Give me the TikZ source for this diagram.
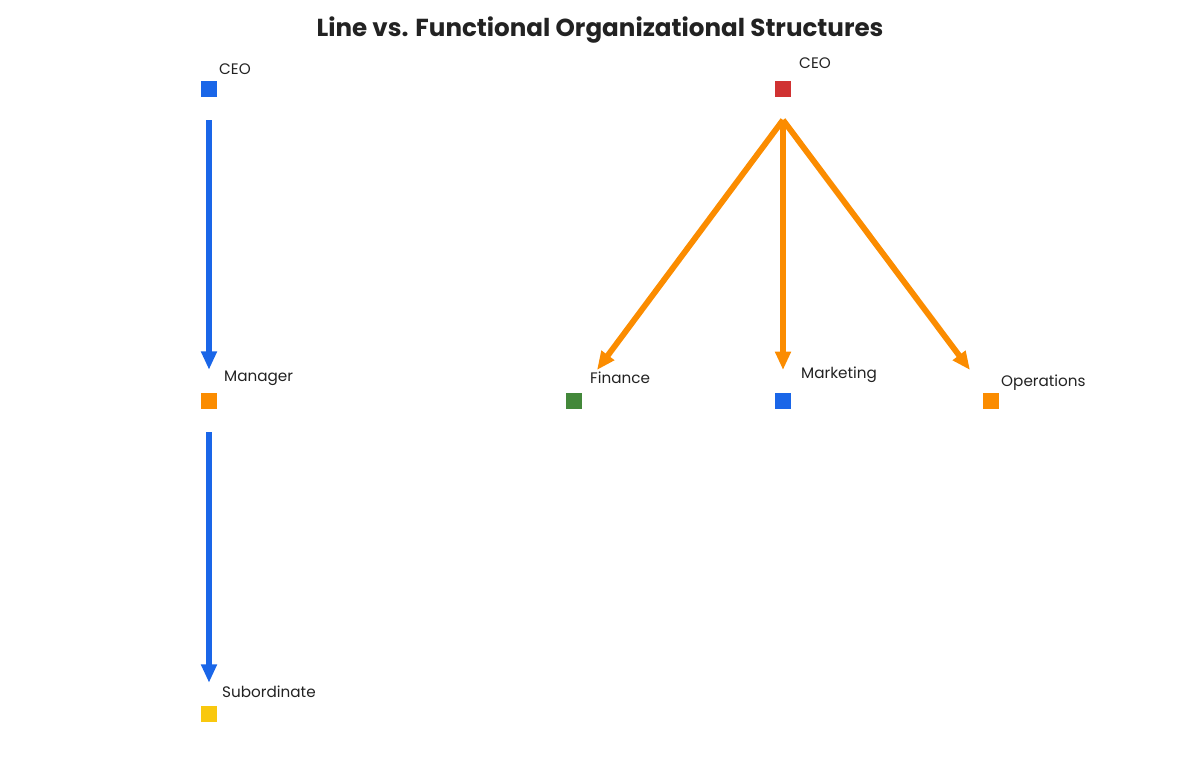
\documentclass[tikz,border=0pt]{standalone}
\usepackage{fontspec}
\setmainfont{Poppins}
\usetikzlibrary{arrows.meta}
\definecolor{cblue}{HTML}{1A66E8}
\definecolor{corange}{HTML}{FB8C00}
\definecolor{cyellow}{HTML}{F9C80E}
\definecolor{cred}{HTML}{D03232}
\definecolor{cgreen}{HTML}{43883A}
\definecolor{ctext}{HTML}{222222}
\begin{document}
\begin{tikzpicture}[x=0.03cm,y=-0.03cm,
  box/.style={minimum size=0.48cm,inner sep=0pt},
  lab/.style={anchor=west,inner sep=0pt,font=\fontsize{13}{15}\selectfont,text=ctext},
  link/.style={line width=5pt,-{Triangle[length=0.55cm,width=0.45cm]},shorten <=0.69cm,shorten >=0.69cm}]
\useasboundingbox (0,0) rectangle (1200,763);
\node[font=\fontsize{21}{25}\selectfont\bfseries,text=ctext] (title) at (600,30) {Line vs. Functional Organizational Structures};

% line structure
\node[box,fill=cblue] (ceoL) at (209,89) {};
\node[lab] (ceoLlab) at (219,69) {CEO};
\node[box,fill=corange] (man) at (209,401) {};
\node[lab] (manlab) at (224,378) {Manager};
\node[box,fill=cyellow] (sub) at (209,714) {};
\node[lab] (sublab) at (222,692) {Subordinate};
\draw[link,cblue] (ceoL) -- (man);
\draw[link,cblue] (man) -- (sub);

% functional structure
\node[box,fill=cred] (ceoF) at (783,89) {};
\node[lab] (ceoFlab) at (799,63) {CEO};
\node[box,fill=cgreen] (fin) at (574,401) {};
\node[lab] (finlab) at (590,378) {Finance};
\node[box,fill=cblue] (mkt) at (783,401) {};
\node[lab] (mktlab) at (801,375) {Marketing};
\node[box,fill=corange] (ops) at (991,401) {};
\node[lab] (opslab) at (1001,383) {Operations};
\coordinate (top) at (783,120);
\coordinate (finend) at (597,370);
\coordinate (mktend) at (783,370);
\coordinate (opsend) at (970,370);
\foreach \e in {finend,mktend,opsend}
  \draw[line width=5pt,corange,-{Triangle[length=0.55cm,width=0.45cm]}] (top) -- (\e);
\end{tikzpicture}
\end{document}
